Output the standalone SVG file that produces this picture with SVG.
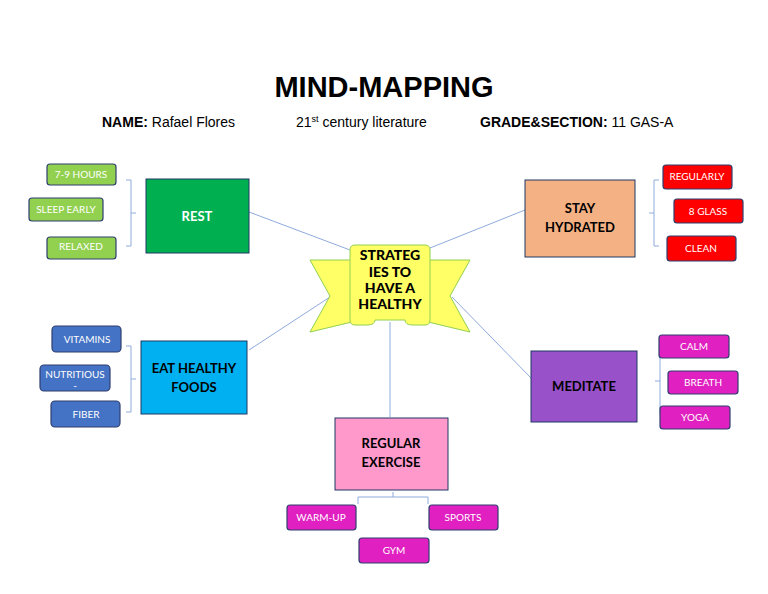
<svg xmlns="http://www.w3.org/2000/svg" width="768" height="594" viewBox="0 0 768 594">
<style>
text{font-family:"Lato","Liberation Sans",sans-serif}
text.hdr{font-family:"Liberation Sans",Arial,sans-serif}
.pill text{fill:#fff;font-size:10px;text-anchor:middle}
.pill rect{stroke:#2f3f6f;stroke-width:1.2}
.main text{font-size:13px;font-weight:bold;text-anchor:middle}
.main rect{stroke:#1f3864;stroke-width:1}
.con{stroke:#8faadc;stroke-width:1;fill:none}
</style>
<rect width="768" height="594" fill="#fff"/>
<text class="hdr" x="384" y="97" font-size="29" font-weight="bold" text-anchor="middle">MIND-MAPPING</text>
<text class="hdr" x="102" y="127" font-size="14"><tspan font-weight="bold">NAME:</tspan> Rafael Flores</text>
<text class="hdr" x="296" y="127" font-size="14">21<tspan font-size="9" dy="-5">st</tspan><tspan dy="5"> century literature</tspan></text>
<text class="hdr" x="480" y="127" font-size="14"><tspan font-weight="bold">GRADE&amp;SECTION:</tspan> 11 GAS-A</text>
<g id="connectors" class="con">
<line x1="249" y1="212" x2="350" y2="250"/>
<line x1="525" y1="210" x2="430" y2="248"/>
<line x1="249" y1="350" x2="330" y2="297"/>
<line x1="531" y1="378" x2="452" y2="297"/>
<line x1="390" y1="322" x2="390" y2="417"/>
<path d="M126,180 h5 v33 h5 M131,213 v33 h-5"/>
<path d="M126,346 h5 v33 h5 M131,379 v33 h-5"/>
<path d="M659,180 h-5 v33 h-5 M654,213 v33 h5"/>
<path d="M665,348 h-5 v33 h-5 M660,381 v33 h5"/>
<path d="M358,504 v-7 h35 v-5 M393,497 h35 v7"/>
</g>
<g id="center">
<polygon points="310,260 352,260 352,322 310,332 330,296" fill="#ffff66" stroke="#92d050"/>
<polygon points="470,260 428,260 428,322 470,332 450,296" fill="#ffff66" stroke="#92d050"/>
<path d="M350,250 q0,-5 5,-5 h70 q5,0 5,5 v70 q0,5 -5,5 h-12 q-8,0 -8,-5 h-30 q0,5 -8,5 h-12 q-5,0 -5,-5 z" fill="#ffff66" stroke="#92d050"/>
<text font-size="14" font-weight="900" text-anchor="middle" x="390"><tspan x="390" y="260">STRATEG</tspan><tspan x="390" y="277">IES TO</tspan><tspan x="390" y="293">HAVE A</tspan><tspan x="390" y="309">HEALTHY</tspan></text>
</g>
<g id="rest" class="main"><rect x="146" y="179" width="103" height="74" fill="#00b050"/><text x="197" y="221" fill="#fff">REST</text></g>
<g id="hydrated" class="main"><rect x="525" y="180" width="110" height="77" fill="#f4b183" stroke="#ed7d31"/><text x="580" y="213">STAY</text><text x="580" y="232">HYDRATED</text></g>
<g id="eat" class="main"><rect x="141" y="341" width="106" height="73" fill="#00b0f0"/><text x="194" y="373">EAT HEALTHY</text><text x="194" y="392">FOODS</text></g>
<g id="meditate" class="main"><rect x="531" y="351" width="106" height="71" fill="#9851c9"/><text x="584" y="391">MEDITATE</text></g>
<g id="exercise" class="main"><rect x="335" y="418" width="113" height="72" fill="#ff99cc" stroke="#ff66cc"/><text x="391" y="448">REGULAR</text><text x="391" y="467">EXERCISE</text></g>
<g id="rest-items" class="pill">
<g><rect x="47" y="164" width="69" height="21" rx="3" fill="#92d050"/><text x="81" y="178">7-9 HOURS</text></g>
<g><rect x="29" y="198" width="74" height="23" rx="3" fill="#92d050"/><text x="66" y="213">SLEEP EARLY</text></g>
<g><rect x="47" y="237" width="69" height="22" rx="3" fill="#92d050"/><text x="81" y="250">RELAXED</text></g>
</g>
<g id="eat-items" class="pill">
<g><rect x="52" y="326" width="69" height="26" rx="4" fill="#4472c4"/><text x="87" y="343">VITAMINS</text></g>
<g><rect x="40" y="365" width="70" height="26" rx="4" fill="#4472c4"/><text x="75" y="378" font-size="9.5">NUTRITIOUS</text><text x="75" y="389">-</text></g>
<g><rect x="51" y="401" width="69" height="26" rx="4" fill="#4472c4"/><text x="86" y="418">FIBER</text></g>
</g>
<g id="hyd-items" class="pill">
<g><rect x="663" y="165" width="69" height="24" rx="3" fill="#ff0000"/><text x="697" y="180">REGULARLY</text></g>
<g><rect x="674" y="199" width="69" height="24" rx="3" fill="#ff0000"/><text x="708" y="215">8 GLASS</text></g>
<g><rect x="667" y="236" width="69" height="25" rx="3" fill="#ff0000"/><text x="701" y="252">CLEAN</text></g>
</g>
<g id="med-items" class="pill">
<g><rect x="659" y="335" width="70" height="23" rx="3" fill="#e020c0"/><text x="694" y="350">CALM</text></g>
<g><rect x="668" y="371" width="70" height="23" rx="3" fill="#e020c0"/><text x="703" y="386">BREATH</text></g>
<g><rect x="660" y="406" width="70" height="23" rx="3" fill="#e020c0"/><text x="695" y="421">YOGA</text></g>
</g>
<g id="ex-items" class="pill">
<g><rect x="287" y="505" width="69" height="25" rx="3" fill="#e020c0"/><text x="321" y="521">WARM-UP</text></g>
<g><rect x="429" y="505" width="69" height="25" rx="3" fill="#e020c0"/><text x="463" y="521">SPORTS</text></g>
<g><rect x="359" y="538" width="70" height="25" rx="3" fill="#e020c0"/><text x="394" y="554">GYM</text></g>
</g>
</svg>
